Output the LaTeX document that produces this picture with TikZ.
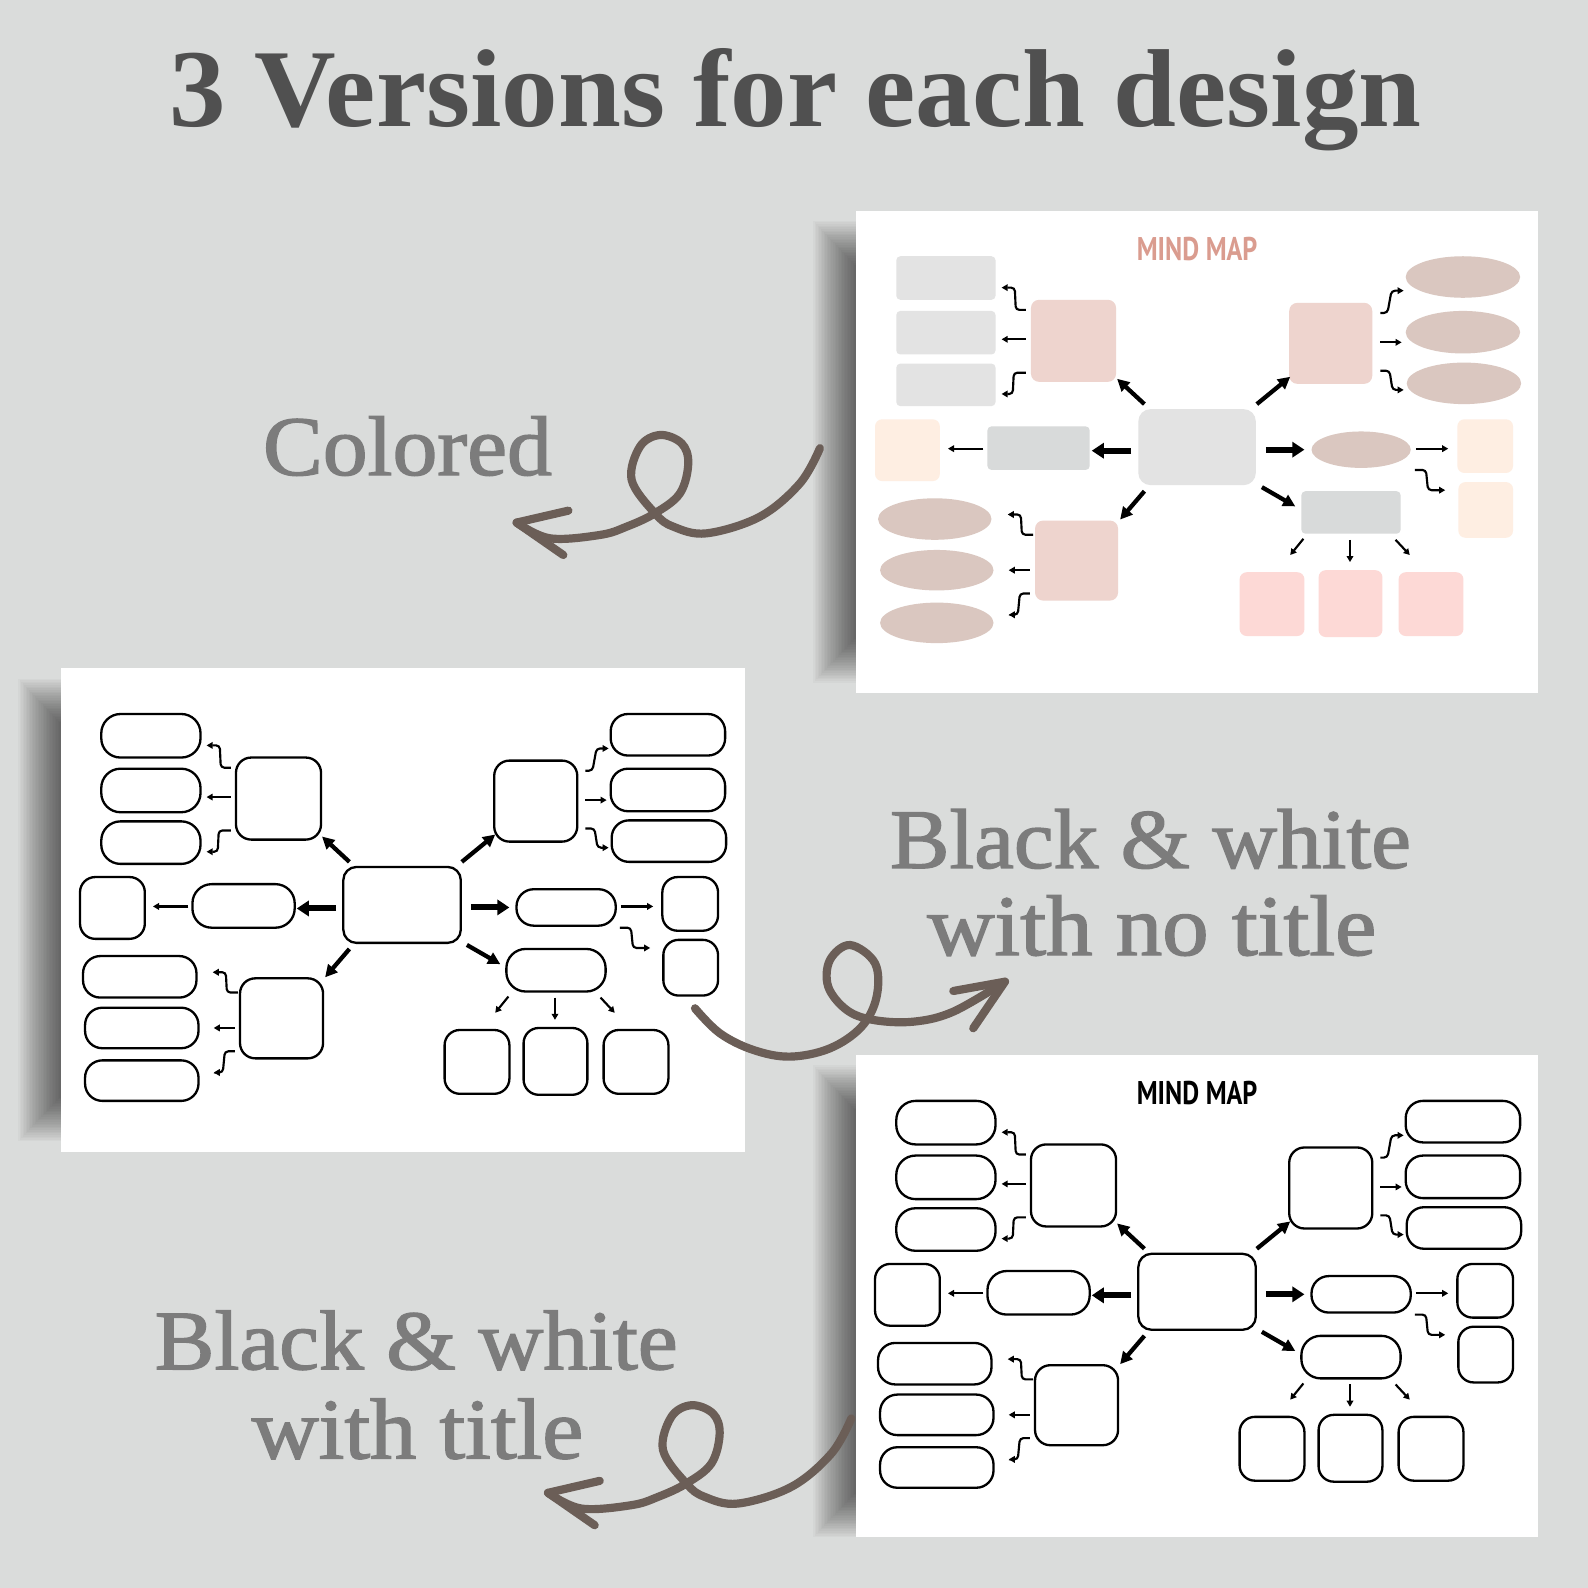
\documentclass[tikz,border=0pt]{standalone}
\usepackage{fontspec}
\setmainfont{Liberation Serif}
\newfontfamily\lblfont[FakeBold=1.6]{Liberation Serif}
\newfontfamily\ttlfont{Liberation Serif}
\newfontfamily\mmfont{PT Sans}
\usetikzlibrary{arrows.meta,shapes.geometric}
\definecolor{bgc}{HTML}{DADCDB}
\definecolor{titlec}{HTML}{505050}
\definecolor{labelc}{HTML}{7C7C7C}
\definecolor{brownc}{HTML}{6B5E57}
\definecolor{cgray}{HTML}{E3E3E3}
\definecolor{cgraytwo}{HTML}{D8DADA}
\definecolor{cpinksub}{HTML}{EED4CE}
\definecolor{coval}{HTML}{DAC7C0}
\definecolor{cpeach}{HTML}{FEEEE2}
\definecolor{cpink}{HTML}{FDD9D6}
\definecolor{cmind}{HTML}{DA9C8F}
\tikzset{
  bigdiag/.style={line width=1.2pt, -{Triangle[length=0.12cm,width=0.12cm]}},
  bighor/.style={line width=1.7pt, -{Triangle[length=0.12cm,width=0.15cm]}},
  smallarr/.style={line width=0.6pt, -{Triangle[length=0.06cm,width=0.065cm]}},
  steparr/.style={smallarr, rounded corners=0.035cm},
  curly/.style={draw=brownc, line width=2.3pt, line cap=round, line join=round},
  mmnode/.style={inner sep=0pt, outer sep=0pt},
  bwbox/.style={draw, line width=0.65pt},
  shadowpart/.style={fill=black, fill opacity=0.022, draw=none},
}
\newcommand\pageshadow[3]{% x of left edge, top, bottom
  \foreach \k in {1,...,28}{%
    \fill[shadowpart] ({#1-1.5*\k},{#2+10+1.6*(28-\k)}) rectangle (#1,{#3-10-1.6*(28-\k)});
  }}
\newcommand\mmbox[6]{%
  \pgfmathsetmacro\mmw{((#5)-(#3))*0.01}%
  \pgfmathsetmacro\mmh{((#6)-(#4))*0.01}%
  \node[mmnode, #1, minimum width=\mmw cm, minimum height=\mmh cm] (#2) at ({((#3)+(#5))/2},{((#4)+(#6))/2}) {};}
\newcommand\mindmap[1]{%
  \mmbox{mmc}{#1c}{279}{196}{395}{271}
  \mmbox{mmsub}{#1sa}{173}{88}{257}{169}
  \mmbox{mmrect}{#1ra}{40}{45}{138}{88}
  \mmbox{mmrect}{#1rb}{40}{99}{138}{142}
  \mmbox{mmrect}{#1rc}{40}{151}{138}{193}
  \mmbox{mmmid}{#1lm}{130}{213}{231}{256}
  \mmbox{mmpeach}{#1pa}{19}{206}{83}{267}
  \mmbox{mmsub}{#1sb}{177}{306}{259}{385}
  \mmbox{mmoval}{#1ea}{22}{284}{134}{325}
  \mmbox{mmoval}{#1eb}{24}{335}{136}{375}
  \mmbox{mmoval}{#1ec}{24}{387}{136}{427}
  \mmbox{mmsub}{#1sc}{428}{91}{510}{171}
  \mmbox{mmoval}{#1ed}{543}{45}{656}{86}
  \mmbox{mmoval}{#1ee}{543}{99}{656}{141}
  \mmbox{mmoval}{#1ef}{544}{150}{657}{191}
  \mmbox{mmoval}{#1rm}{450}{218}{548}{254}
  \mmbox{mmpeach}{#1pb}{594}{206}{649}{259}
  \mmbox{mmpeach}{#1pc}{595}{268}{649}{323}
  \mmbox{mmmid}{#1lr}{440}{277}{538}{319}
  \mmbox{mmpink}{#1ba}{379}{357}{443}{420}
  \mmbox{mmpink}{#1bb}{457}{355}{520}{421}
  \mmbox{mmpink}{#1bc}{536}{357}{600}{420}
  \draw[bigdiag] (285,191) -- (258,166);
  \draw[bigdiag] (285,277) -- (261,305);
  \draw[bigdiag] (396,191) -- (429,164);
  \draw[bigdiag] (401,273) -- (434,292);
  \draw[bighor] (272,237) -- (233,237);
  \draw[bighor] (405,236) -- (443,236);
  \draw[smallarr] (126,235) -- (91,235);
  \draw[smallarr] (553,235) -- (585,235);
  \draw[smallarr] (168,127) -- (144,127);
  \draw[smallarr] (172,355) -- (151,355);
  \draw[smallarr] (518,130) -- (539,130);
  \draw[smallarr] (442,324) -- (429,340);
  \draw[smallarr] (488,325) -- (488,347);
  \draw[smallarr] (533,325) -- (547,340);
  \draw[steparr] (168,98) -- (158,98) -- (157,76) -- (144,76);
  \draw[steparr] (168,160) -- (156,160) -- (155,181) -- (144,181);
  \draw[steparr] (175,320) -- (164,320) -- (163,300) -- (150,300);
  \draw[steparr] (172,378) -- (162,378) -- (160,399) -- (151,399);
  \draw[steparr] (518,101) -- (525,101) -- (529,79) -- (541,79);
  \draw[steparr] (518,158) -- (527,158) -- (530,177) -- (541,177);
  \draw[steparr] (552,256) -- (563,256) -- (565,276) -- (582,276);
}
\newcommand\curlyone{%
  \draw[curly] plot[smooth, tension=0.6] coordinates {(809.6,442.6) (789.9,477.2) (750.4,510.1) (697.7,526.6) (664.8,520) (646.7,506.8) (623.7,473.9) (631.9,441) (651.7,429.5) (673,437.7) (679.6,457.5) (671.4,487.1) (646.7,506.8) (618.8,520) (592.4,528.2) (543,531.5) (510.1,516)};
  \draw[curly] (561.2,504.2) -- (510.1,516) -- (556.2,548);
}
\begin{document}
\begin{tikzpicture}[x=0.01cm,y=-0.01cm]
\useasboundingbox[fill=bgc] (0,0) rectangle (1568,1568);
% shadows
\pageshadow{845}{208}{684}
\pageshadow{60}{660}{1137}
\pageshadow{845}{1042}{1528}
% pages
\fill[white] (845,208) rectangle (1519,684);
\fill[white] (60,660) rectangle (736,1137);
\fill[white] (845,1042) rectangle (1519,1518);
% coloured page
\begin{scope}[shift={(845,208)},
  mmc/.style={fill=cgray, rounded corners=0.12cm},
  mmsub/.style={fill=cpinksub, rounded corners=0.08cm},
  mmrect/.style={fill=cgray, rounded corners=0.04cm},
  mmmid/.style={fill=cgraytwo, rounded corners=0.04cm},
  mmpeach/.style={fill=cpeach, rounded corners=0.07cm},
  mmoval/.style={ellipse, fill=coval},
  mmpink/.style={fill=cpink, rounded corners=0.07cm}]
  \node[anchor=base, inner sep=0pt, text=cmind] (titleA) at (337,49) {\resizebox{1.19cm}{0.23cm}{\mmfont\bfseries MIND MAP}};
  \mindmap{A}
\end{scope}
% black and white, no title
\begin{scope}[shift={(60,660)},
  mmc/.style={bwbox, rounded corners=0.13cm},
  mmsub/.style={bwbox, rounded corners=0.15cm},
  mmrect/.style={bwbox, rounded corners=0.19cm},
  mmmid/.style={bwbox, rounded corners=0.19cm},
  mmpeach/.style={bwbox, rounded corners=0.15cm},
  mmoval/.style={bwbox, rounded corners=0.17cm},
  mmpink/.style={bwbox, rounded corners=0.15cm}]
  \mindmap{B}
\end{scope}
% black and white, with title
\begin{scope}[shift={(845,1042)},
  mmc/.style={bwbox, rounded corners=0.13cm},
  mmsub/.style={bwbox, rounded corners=0.15cm},
  mmrect/.style={bwbox, rounded corners=0.19cm},
  mmmid/.style={bwbox, rounded corners=0.19cm},
  mmpeach/.style={bwbox, rounded corners=0.15cm},
  mmoval/.style={bwbox, rounded corners=0.17cm},
  mmpink/.style={bwbox, rounded corners=0.15cm}]
  \node[anchor=base, inner sep=0pt, text=black] (titleC) at (337,49) {\resizebox{1.19cm}{0.23cm}{\mmfont\bfseries MIND MAP}};
  \mindmap{C}
\end{scope}
% texts
\node[anchor=base west, inner sep=0pt, text=titlec] (maintitle) at (167,124.4) {\resizebox{12.35cm}{0.77cm}{\ttlfont\bfseries 3 Versions for each design}};
\node[anchor=base west, inner sep=0pt, text=labelc] (lcol) at (259,469) {\resizebox{2.85cm}{0.58cm}{\lblfont Colored}};
\node[anchor=base west, inner sep=0pt, text=labelc] (lbwa) at (878,857) {\resizebox{5.14cm}{0.58cm}{\lblfont Black \& white}};
\node[anchor=base west, inner sep=0pt, text=labelc] (lbwb) at (915,943) {\resizebox{4.43cm}{0.59cm}{\lblfont with no title}};
\node[anchor=base west, inner sep=0pt, text=labelc] (lbwc) at (152,1352) {\resizebox{5.16cm}{0.58cm}{\lblfont Black \& white}};
\node[anchor=base west, inner sep=0pt, text=labelc] (lbwd) at (248,1440) {\resizebox{3.27cm}{0.59cm}{\lblfont with title}};
% curly arrows
\curlyone
\begin{scope}[shift={(31,958)}]
  \curlyone
\end{scope}
\draw[curly] plot[smooth, tension=0.6] coordinates {(686.2,995.6) (710.9,1020.3) (743.8,1036.7) (780,1043.3) (819.5,1035.1) (850.8,1013.7) (865.6,984.1) (864,951.1) (839.3,933.1) (819.5,947.9) (817.8,974.2) (836,997.2) (862.3,1007.1) (901.8,1008.8) (941.3,998.9) (992.3,969.3)};
\draw[curly] (941.3,978.5) -- (992.3,969.3) -- (961,1015.3);
\end{tikzpicture}
\end{document}
